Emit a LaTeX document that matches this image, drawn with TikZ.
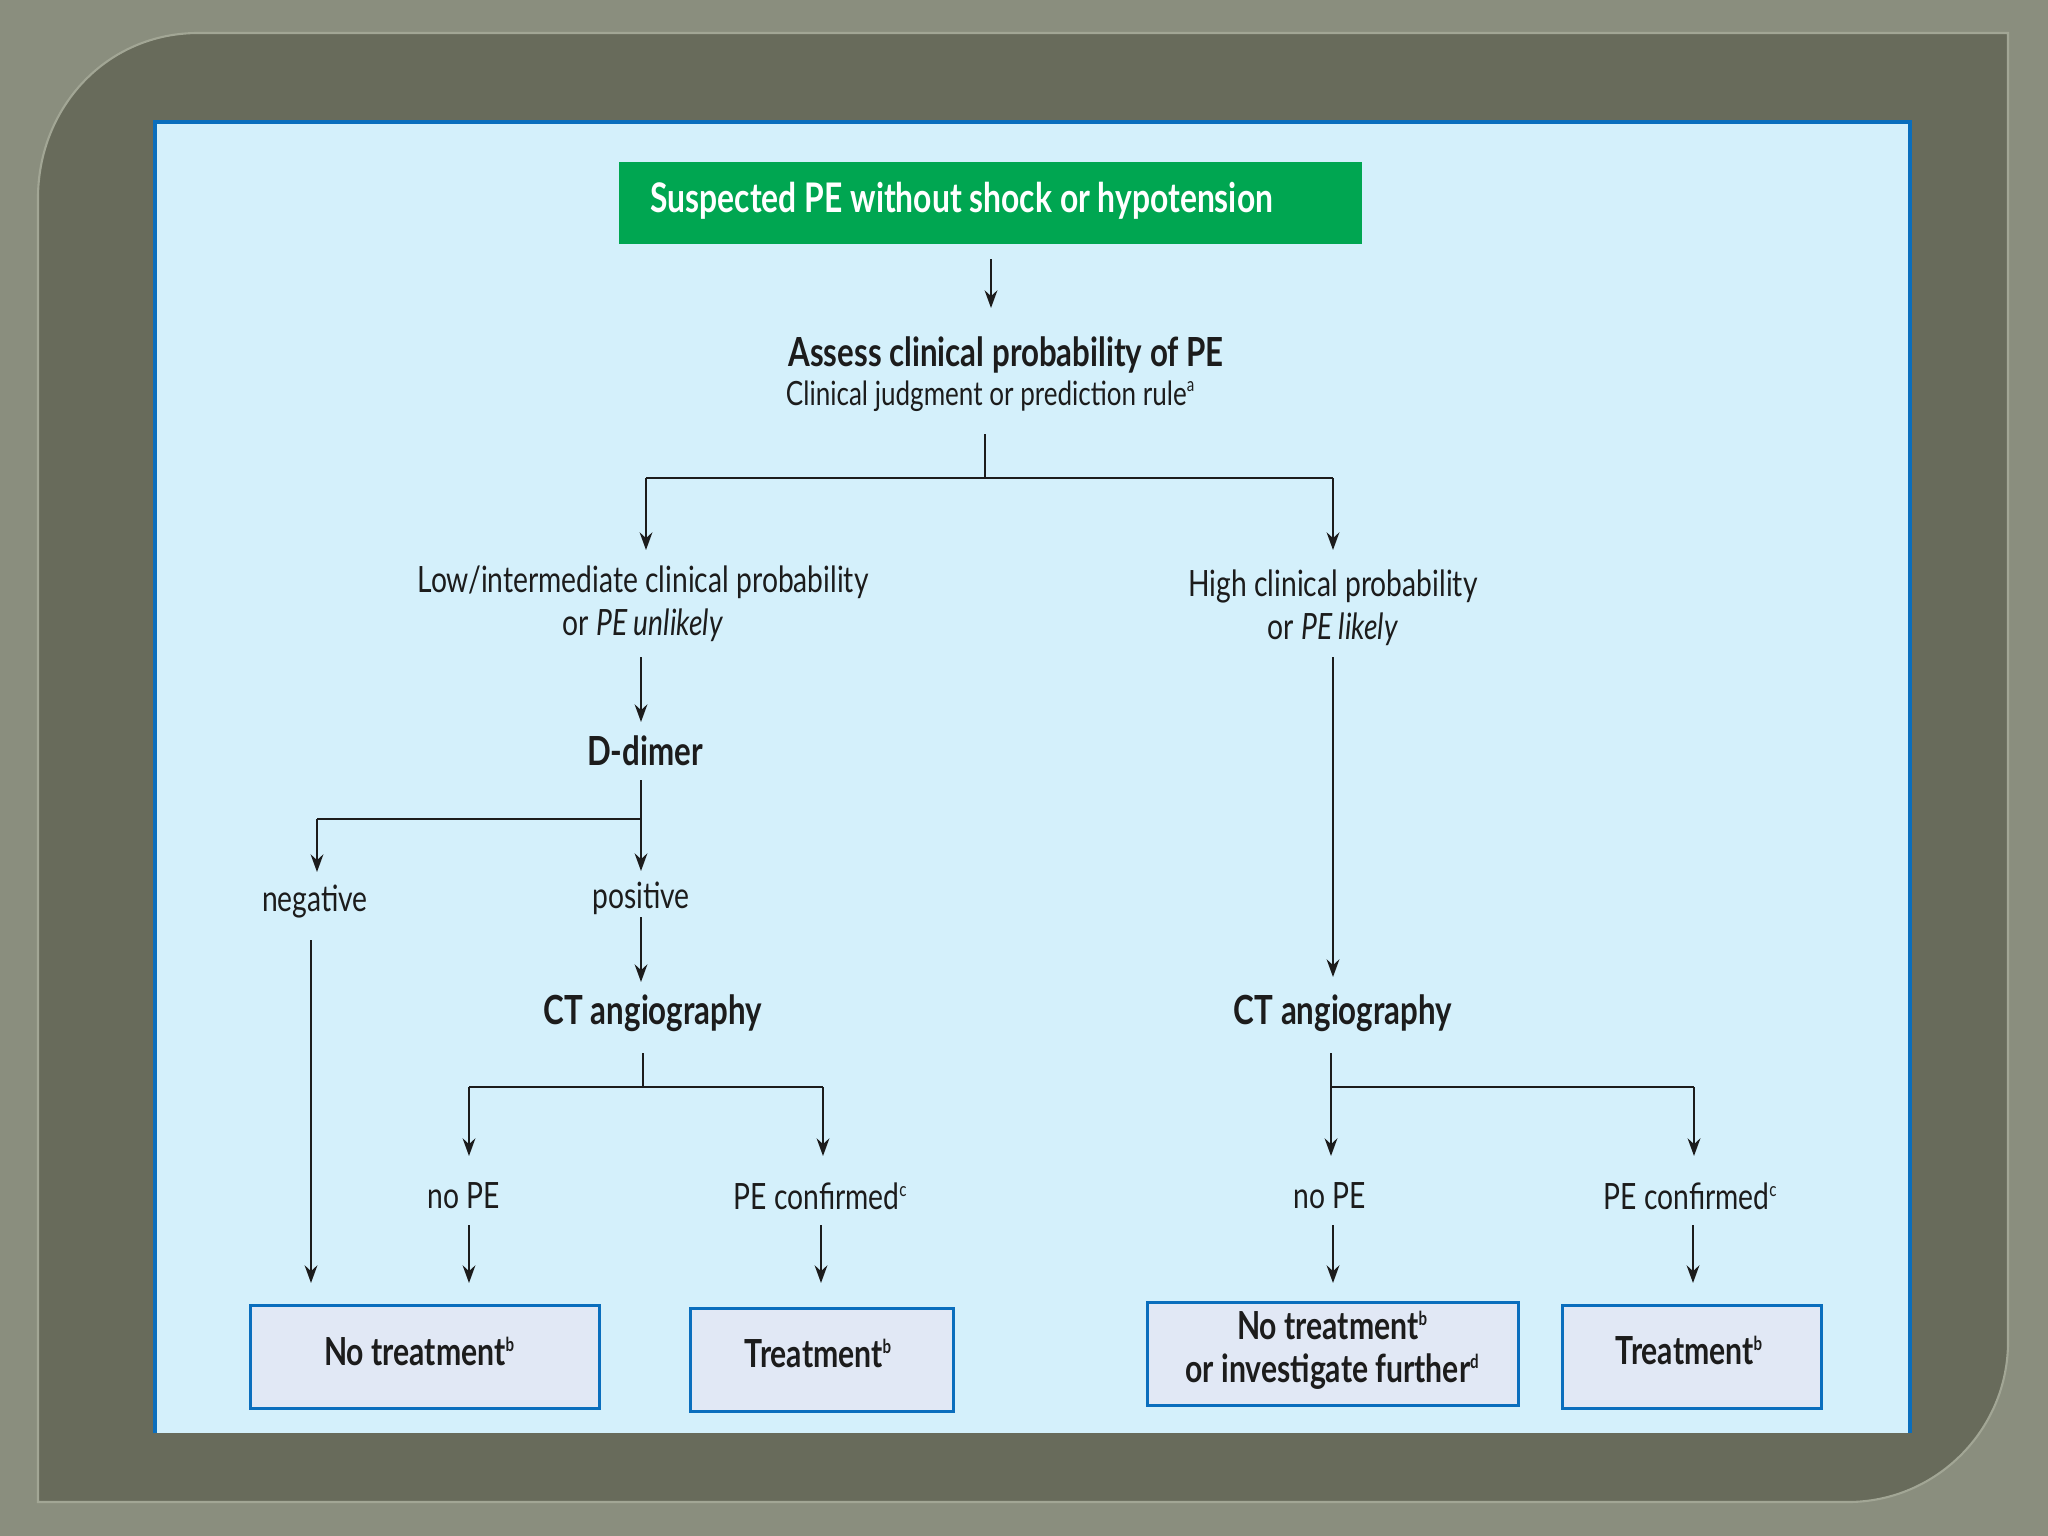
\documentclass[tikz,border=0pt]{standalone}
\usepackage{fontspec}
\setmainfont[FakeStretch=0.78]{Lato}
\usetikzlibrary{arrows.meta}
\definecolor{outerbg}{HTML}{8A8E7E}
\definecolor{panelc}{HTML}{686B5B}
\definecolor{paneledge}{HTML}{A2A695}
\definecolor{paleblue}{HTML}{D4F0FB}
\definecolor{bordblue}{HTML}{0A6EBD}
\definecolor{greenc}{HTML}{00A651}
\definecolor{boxfill}{HTML}{E1E8F5}
\definecolor{inkc}{HTML}{1C1C1C}
\newcommand\supmark[1]{\textsuperscript{\fontsize{5.5}{6}\selectfont #1}}
\tikzset{
  arr/.style={draw=inkc, line width=0.75pt, -{Stealth[length=5pt,width=3.6pt]}},
  ln/.style={draw=inkc, line width=0.75pt},
  lbl/.style={text=inkc, inner sep=0pt, align=center, font=\fontsize{10.3}{12.3}\selectfont},
  bold/.style={text=inkc, inner sep=0pt, align=center, font=\fontsize{11.4}{14}\selectfont\bfseries},
  endbox/.style={draw=bordblue, line width=0.85pt, fill=boxfill, inner sep=0pt},
  boxtxt/.style={text=inkc, align=center, inner sep=0pt, font=\fontsize{11}{12.3}\selectfont\bfseries},
}
\begin{document}
\begin{tikzpicture}[x=0.01cm,y=-0.01cm]
\useasboundingbox (0,0) rectangle (2048,1536);
% backgrounds
\fill[outerbg] (0,0) rectangle (2048,1536);
\filldraw[fill=panelc, draw=paneledge, line width=0.6pt] (38,1502) -- (38,198) .. controls (38,107) and (107,33) .. (198,33)
  -- (2008,33) -- (2008,1342) .. controls (2008,1430) and (1936,1502) .. (1848,1502) -- cycle;
\fill[paleblue] (155,122) rectangle (1910,1433);
\draw[bordblue, line width=1.2pt] (155,1433) -- (155,122) -- (1910,122) -- (1910,1433);

% top box
\node[fill=greenc, minimum width=7.43cm, minimum height=0.82cm, inner sep=0pt] (start) at (990.5,203) {};
\node[anchor=west, text=white, inner sep=0pt, font=\fontsize{11.6}{14}\selectfont\bfseries] (starttxt) at (650,201) {Suspected PE without shock or hypotension};

\node[bold] (assess) at (1006,355) {Assess clinical probability of PE};
\node[lbl, font=\fontsize{9.5}{12}\selectfont] (rule) at (991,396) {Clinical judgment or prediction rule\supmark{a}};

\node[lbl] (low) at (643,604) {Low/intermediate clinical probability\\or \textit{PE unlikely}};
\node[lbl] (high) at (1333,608) {High clinical probability\\or \textit{PE likely}};

\node[bold] (ddimer) at (645,751) {D-dimer};
\node[lbl] (neg) at (315,902) {negative};
\node[lbl] (pos) at (641,898) {positive};

\node[bold] (ct1) at (653,1013) {CT angiography};
\node[bold] (ct2) at (1343,1013) {CT angiography};

\node[lbl] (nope1) at (464,1196) {no PE};
\node[lbl] (conf1) at (821,1196) {PE confirmed\supmark{c}};
\node[lbl] (nope2) at (1330,1196) {no PE};
\node[lbl] (conf2) at (1691,1196) {PE confirmed\supmark{c}};

\node[endbox, minimum width=3.48cm, minimum height=1.02cm] (b1) at (425,1357) {};
\node[endbox, minimum width=2.62cm, minimum height=1.02cm] (b2) at (822,1360) {};
\node[endbox, minimum width=3.70cm, minimum height=1.02cm] (b3) at (1333,1354) {};
\node[endbox, minimum width=2.58cm, minimum height=1.02cm] (b4) at (1692,1357) {};
\node[boxtxt] (b1t) at (420,1351) {No treatment\supmark{b}};
\node[boxtxt] (b2t) at (819,1353) {Treatment\supmark{b}};
\node[boxtxt] (b3t) at (1333,1350) {No treatment\supmark{b}\\or investigate further\supmark{d}};
\node[boxtxt] (b4t) at (1690,1350) {Treatment\supmark{b}};

% coordinates
\coordinate (s1) at (991,259); \coordinate (e1) at (991,308);
\coordinate (s2) at (985,434); \coordinate (j2) at (985,478);
\coordinate (j2l) at (646,478); \coordinate (j2r) at (1333,478);
\coordinate (e2l) at (646,550); \coordinate (e2r) at (1333,550);
\coordinate (s3) at (641,657); \coordinate (e3) at (641,722);
\coordinate (s4) at (641,780); \coordinate (j4) at (641,819); \coordinate (e4) at (641,871);
\coordinate (j4l) at (317,819); \coordinate (e4l) at (317,872);
\coordinate (s5) at (311,940); \coordinate (e5) at (311,1283);
\coordinate (s6) at (641,917); \coordinate (e6) at (641,982);
\coordinate (s7) at (643,1053); \coordinate (j7) at (643,1087);
\coordinate (j7l) at (469,1087); \coordinate (j7r) at (823,1087);
\coordinate (e7l) at (469,1156); \coordinate (e7r) at (823,1156);
\coordinate (s8) at (469,1225); \coordinate (e8) at (469,1283);
\coordinate (s9) at (821,1225); \coordinate (e9) at (821,1283);
\coordinate (s10) at (1333,657); \coordinate (e10) at (1333,977);
\coordinate (s11) at (1331,1053); \coordinate (j11) at (1331,1087); \coordinate (e11) at (1331,1156);
\coordinate (j11r) at (1694,1087); \coordinate (e11r) at (1694,1156);
\coordinate (s12) at (1333,1225); \coordinate (e12) at (1333,1283);
\coordinate (s13) at (1693,1225); \coordinate (e13) at (1693,1283);

% connectors
\draw[arr] (s1) -- (e1);
\draw[ln] (s2) -- (j2);
\draw[ln] (j2l) -- (j2r);
\draw[arr] (j2l) -- (e2l);
\draw[arr] (j2r) -- (e2r);
\draw[arr] (s3) -- (e3);
\draw[arr] (s4) -- (e4);
\draw[ln] (j4l) -- (j4);
\draw[arr] (j4l) -- (e4l);
\draw[arr] (s5) -- (e5);
\draw[arr] (s6) -- (e6);
\draw[ln] (s7) -- (j7);
\draw[ln] (j7l) -- (j7r);
\draw[arr] (j7l) -- (e7l);
\draw[arr] (j7r) -- (e7r);
\draw[arr] (s8) -- (e8);
\draw[arr] (s9) -- (e9);
\draw[arr] (s10) -- (e10);
\draw[arr] (s11) -- (e11);
\draw[ln] (j11) -- (j11r);
\draw[arr] (j11r) -- (e11r);
\draw[arr] (s12) -- (e12);
\draw[arr] (s13) -- (e13);
\end{tikzpicture}
\end{document}
